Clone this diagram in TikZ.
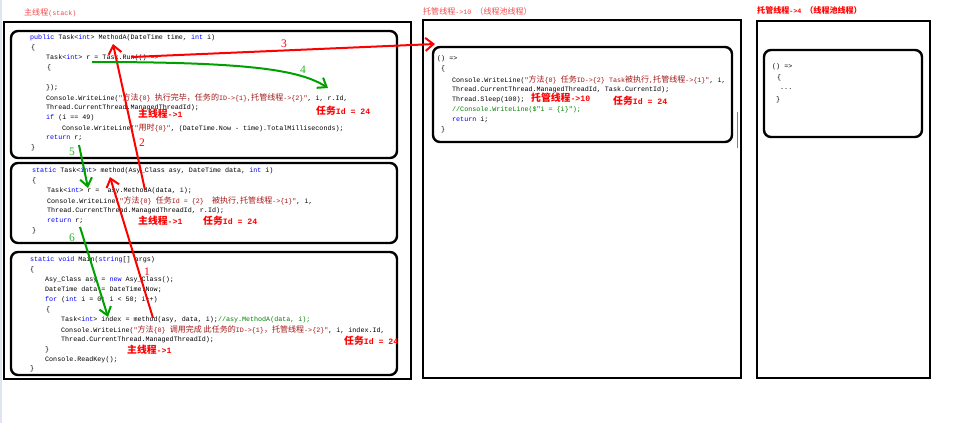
\documentclass[tikz,border=0pt]{standalone}
\usepackage{xcolor}
\usepackage{fontspec}
\usepackage{tikz}
\usetikzlibrary{arrows.meta}
\setmainfont{Liberation Serif}
\setmonofont{Liberation Mono}
\newfontfamily\cjkfont[Scale=1.2]{Noto Sans CJK SC}

\definecolor{kwblue}{RGB}{0,0,255}
\definecolor{strred}{RGB}{163,21,21}
\definecolor{cmtgreen}{RGB}{0,128,0}
\definecolor{notered}{RGB}{255,0,0}
\definecolor{titlered}{RGB}{245,70,70}
\definecolor{arrowred}{RGB}{255,0,0}
\definecolor{arrowgreen}{RGB}{0,160,0}
\definecolor{numgreen}{RGB}{40,180,40}
\definecolor{stripblue}{RGB}{222,228,240}

\newcommand\kw[1]{\textcolor{kwblue}{#1}}
\newcommand\strc[1]{\textcolor{strred}{#1}}
\newcommand\cmt[1]{\textcolor{cmtgreen}{#1}}
\newcommand\zh[1]{{\cjkfont #1}}
\newcommand\codefont{\ttfamily\fontsize{6.7}{8}\selectfont}
\newcommand\notefont{\ttfamily\bfseries\fontsize{8.2}{10}\selectfont}

\tikzset{
  frame/.style={draw=black, line width=2.6pt},
  codebox/.style={draw=black, line width=2.4pt, rounded corners=7pt},
  code/.style={anchor=west, inner sep=0pt, font=\codefont},
  note/.style={anchor=west, inner sep=0pt, text=notered, font=\notefont},
  headline/.style={anchor=west, inner sep=0pt, font=\codefont},
  num/.style={inner sep=0pt, font=\fontsize{11.5}{12}\selectfont},
  redarrow/.style={draw=arrowred, line width=2pt, -{Straight Barb[length=8pt,width=13pt]}},
  greenarrow/.style={draw=arrowgreen, line width=2pt, -{Straight Barb[length=8pt,width=12pt]}}
}

\begin{document}
\begin{tikzpicture}[x=1pt,y=-1pt]
\useasboundingbox (0,0) rectangle (973,423);
% arrow ends
\coordinate (s1) at (153,318);
\coordinate (t1) at (110,177);
\coordinate (s2) at (145,190);
\coordinate (t2) at (113,44);
\coordinate (s3) at (132,57);
\coordinate (t3) at (435,44);
\coordinate (s4) at (92,62);
\coordinate (t4) at (328,88);
\coordinate (s5) at (79,145);
\coordinate (t5) at (88,188);
\coordinate (s6) at (80,227);
\coordinate (t6) at (108,317);

% draws frames and boxes
\fill[stripblue] (0,0) rectangle (2,423);
\draw[frame] (4,22) rectangle (411,379);
\draw[codebox] (11,31) rectangle (397,158);
\draw[codebox] (11,163) rectangle (397,243);
\draw[codebox] (11,252) rectangle (397,375);
\draw[frame] (423,20) rectangle (741,378);
\draw[codebox] (433,47) rectangle (732,142);
\draw[gray, line width=0.8pt] (737,112) -- (737,148);
\draw[frame] (757,21) rectangle (930,378);
\draw[codebox] (764,50) rectangle (922,137);

% titles
\node[headline, text=titlered] (tmain) at (24,13) {\zh{主线程}(stack)};
\node[headline, text=titlered] (tpool) at (423,11) {\zh{托管线程}->10 \zh{（线程池线程）}};
\node[note, font=\ttfamily\bfseries\fontsize{6.7}{8}\selectfont] (tpool2) at (757,10) {\zh{托管线程}->4 \zh{（线程池线程）}};

% code: MethodA
\node[code] (a1) at (30,38) {\kw{public} Task<\kw{int}> MethodA(DateTime time, \kw{int} i)};
\node[code] (a2) at (31,48) {\{};
\node[code] (a3) at (46,58) {Task<\kw{int}> r = Task.Run(() =>};
\node[code] (a4) at (47,68) {\{};
\node[code] (a5) at (46,88) {\});};
\node[code] (a6) at (46,98) {Console.WriteLine(\strc{"\zh{方法}\{0\} \zh{执行完毕，任务的}ID->\{1\},\zh{托管线程}->\{2\}"}, i, r.Id,};
\node[code] (a7) at (46,108) {Thread.CurrentThread.ManagedThreadId);};
\node[code] (a8) at (46,118) {\kw{if} (i == 49)};
\node[code] (a9) at (62,128) {Console.WriteLine(\strc{"\zh{用时}\{0\}"}, (DateTime.Now - time).TotalMilliseconds);};
\node[code] (a10) at (46,138) {\kw{return} r;};
\node[code] (a11) at (31,148) {\}};
\node[note] (na1) at (138,114) {\zh{主线程}->1};
\node[note] (na2) at (316,111) {\zh{任务}Id = 24};

% code: method
\node[code] (m1) at (32,171) {\kw{static} Task<\kw{int}> method(Asy\_Class asy, DateTime data, \kw{int} i)};
\node[code] (m2) at (32,181) {\{};
\node[code] (m3) at (47,191) {Task<\kw{int}> r =\ \ asy.MethodA(data, i);};
\node[code] (m4) at (47,201) {Console.WriteLine(\strc{"\zh{方法}\{0\} \zh{任务}Id = \{2\}\ \ \zh{被执行},\zh{托管线程}->\{1\}"}, i,};
\node[code] (m5) at (47,211) {Thread.CurrentThread.ManagedThreadId, r.Id);};
\node[code] (m6) at (47,221) {\kw{return} r;};
\node[code] (m7) at (32,231) {\}};
\node[note] (nm1) at (138,221) {\zh{主线程}->1};
\node[note] (nm2) at (203,221) {\zh{任务}Id = 24};

% code: Main
\node[code] (c1) at (30,260) {\kw{static} \kw{void} Main(\kw{string}[] args)};
\node[code] (c2) at (30,270) {\{};
\node[code] (c3) at (45,280) {Asy\_Class asy = \kw{new} Asy\_Class();};
\node[code] (c4) at (45,290) {DateTime data = DateTime.Now;};
\node[code] (c5) at (45,300) {\kw{for} (\kw{int} i = 0; i < 50; i++)};
\node[code] (c6) at (46,310) {\{};
\node[code] (c7) at (61,320) {Task<\kw{int}> index = method(asy, data, i);\cmt{//asy.MethodA(data, i);}};
\node[code] (c8) at (61,330) {Console.WriteLine(\strc{"\zh{方法}\{0\} \zh{调用完成 此任务的}ID->\{1\}\zh{，托管线程}->\{2\}"}, i, index.Id,};
\node[code] (c9) at (61,340) {Thread.CurrentThread.ManagedThreadId);};
\node[code] (c10) at (45,350) {\}};
\node[code] (c11) at (45,360) {Console.ReadKey();};
\node[code] (c12) at (30,369) {\}};
\node[note] (nc1) at (344,341) {\zh{任务}Id = 24};
\node[note] (nc2) at (127,350) {\zh{主线程}->1};

% code: lambda on pool thread 10
\node[code] (p1) at (437,59) {() =>};
\node[code] (p2) at (441,69) {\{};
\node[code] (p3) at (452,80) {Console.WriteLine(\strc{"\zh{方法}\{0\} \zh{任务}ID->\{2\} Task\zh{被执行},\zh{托管线程}->\{1\}"}, i,};
\node[code] (p4) at (452,90) {Thread.CurrentThread.ManagedThreadId, Task.CurrentId);};
\node[code] (p5) at (452,100) {Thread.Sleep(100);};
\node[code] (p6) at (452,110) {\cmt{//Console.WriteLine(\$"i = \{i\}");}};
\node[code] (p7) at (452,120) {\kw{return} i;};
\node[code] (p8) at (441,130) {\}};
\node[note] (np1) at (531,98) {\zh{托管线程}->10};
\node[note] (np2) at (613,101) {\zh{任务}Id = 24};

% code: lambda on pool thread 4
\node[code] (q1) at (772,67) {() =>};
\node[code] (q2) at (777,78) {\{};
\node[code] (q3) at (780,89) {...};
\node[code] (q4) at (776,100) {\}};

% draws arrows
\draw[redarrow] (s1) -- (t1);
\draw[redarrow] (s2) -- (t2);
\draw[redarrow] (s3) -- (t3);
\draw[greenarrow] (s4) .. controls (250,62) and (300,70) .. (t4);
\draw[greenarrow] (s5) -- (t5);
\draw[greenarrow] (s6) -- (t6);

% numbers
\node[num, text=arrowred] (n1) at (147,272) {1};
\node[num, text=arrowred] (n2) at (142,143) {2};
\node[num, text=arrowred] (n3) at (284,44) {3};
\node[num, text=numgreen] (n4) at (303,70) {4};
\node[num, text=numgreen] (n5) at (72,152) {5};
\node[num, text=numgreen] (n6) at (72,238) {6};
\end{tikzpicture}
\end{document}
